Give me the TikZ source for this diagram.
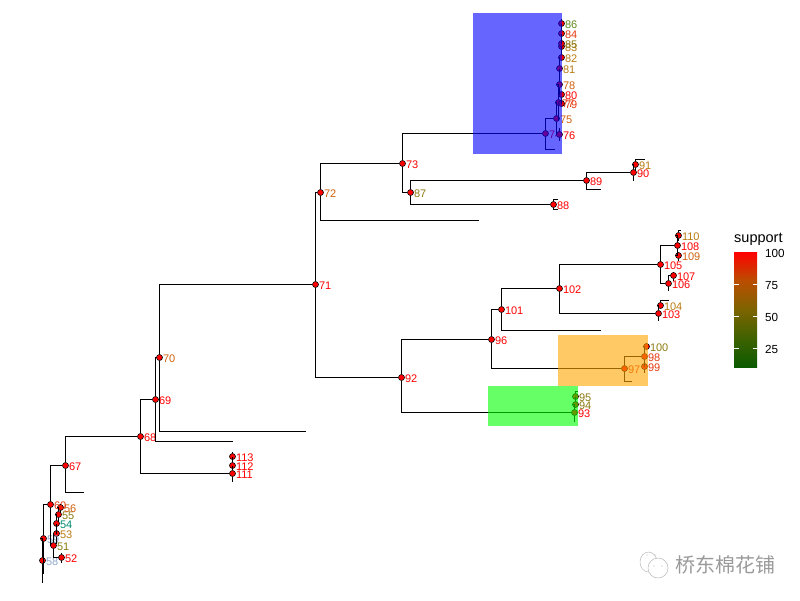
\documentclass[tikz,border=0pt]{standalone}
\usepackage{fontspec}
\setmainfont{Liberation Sans}
\newfontfamily\cjk{Noto Sans CJK SC}
\usepackage{xcolor}
\usepackage{tikz}
\definecolor{ca}{HTML}{FF0000}
\definecolor{cb}{HTML}{E63A10}
\definecolor{cc}{HTML}{D0600E}
\definecolor{cd}{HTML}{B87A10}
\definecolor{ce}{HTML}{8C7A10}
\definecolor{cf}{HTML}{5E8A20}
\definecolor{cg}{HTML}{008A70}
\definecolor{ch}{HTML}{8FA8CC}
\definecolor{leggreen}{HTML}{0A5A00}
\definecolor{legmida}{HTML}{3F6200}
\definecolor{legmidb}{HTML}{7C6400}
\definecolor{legmidc}{HTML}{BA4E00}
\definecolor{wmgray}{HTML}{9A9A9A}
\definecolor{cladeorange}{HTML}{FFA500}
\pgfdeclareverticalshading{supshade}{100bp}{color(0bp)=(leggreen); color(25bp)=(leggreen); color(37.5bp)=(legmida); color(50bp)=(legmidb); color(62.5bp)=(legmidc); color(75bp)=(red); color(100bp)=(red)}
\tikzset{
    dot/.style={circle, draw=black, fill=red, line width=0.6pt, minimum size=6pt, inner sep=0pt, label distance=-3pt},
    lab/.style={font=\fontsize{11}{12}\selectfont, inner sep=0pt, yshift=-1pt},
    edge/.style={draw=black, line width=1pt},
    hilite/.style={opacity=0.6},
    legtext/.style={font=\fontsize{11.7}{14}\selectfont, text=black, inner sep=0pt, anchor=west}
}
\begin{document}
\begin{tikzpicture}[x=1pt, y=-1pt]
    \useasboundingbox (0,0) rectangle (800,600);

    % Inner nodes of the tree
    \foreach \name/\px/\py/\col in {
        51/53.3/545/ce, 52/61.3/557/ca, 53/56.7/533/cd, 54/56.7/523/cg,
        55/58.7/514/ce, 56/60.7/507/cc, 58/42.3/560/ch, 59/43.3/538/ch,
        60/50.7/504/cb, 67/65/465/ca, 68/140.5/436.5/ca, 69/155.3/399/ca,
        70/159.3/357/cc, 71/315/284/ca, 72/320/192/cc, 73/402/163/ca,
        74/545.7/133.3/ca, 75/556.7/118.3/cc, 76/559.3/134/ca, 77/558.3/102/cb,
        78/559.3/84/cc, 79/561.3/103/cb, 80/561.3/94.3/ca, 81/559.3/68/cd,
        82/561/57.3/cd, 83/561/46/cd, 84/561/33.3/cb, 85/561/43.3/ce,
        86/561/23.3/cf, 87/410.5/192.5/ce, 88/553.5/204.5/ca, 89/586.7/180.5/ca,
        90/633.3/172/ca, 91/635.3/164.3/cd, 92/401/377/ca, 93/574.7/412.7/ca,
        94/575.3/404.3/ce, 95/575.3/396.7/ce, 96/491.7/339.3/ca, 97/624.3/368.3/cb,
        98/644.3/356/cb, 99/644.3/366/cb, 100/646.7/346.7/ce, 101/501.7/309.3/ca,
        102/559/288/ca, 103/658.3/313.3/ca, 104/660.7/305/cd, 105/660.7/264.3/ca,
        106/668.3/283.3/ca, 107/673.3/275.3/ca, 108/677.3/245.3/ca, 109/678.3/255.3/cc,
        110/678.7/235.3/cd, 111/232.5/473/ca, 112/232.5/465/ca, 113/232.5/456/ca}
    {
        \pgfmathsetmacro{\qx}{floor(\px)+0.5}
        \pgfmathsetmacro{\qy}{floor(\py)+0.5}
        \node[dot, label={[lab, text=\col]right:\name}] (n\name) at (\qx,\qy) {};
    }

    % Tips
    \foreach \name/\px/\py in {
        t58/42.3/582, t59/43.3/573, t67/83/492, t69/232/441, t70/305/431, t72/478/220,
        t52a/61.3/552, t52b/61.3/562, t53/56.7/543, t54/56.7/533, t55/58.7/521,
        t56a/60.7/503, t56b/60.7/511, t74/554/149.3, t76a/559.3/127, t76b/559.3/140,
        t77/558.3/120, t86/561/18, t88a/557/199, t88b/557/209, t89/600/189.5,
        t90/633.3/180, t91a/644/159.3, t91b/635.3/169, t93/574.7/421.7, t95/577.5/391,
        t97/631.7/381, t99/644.3/372, t100/646.7/343, t101/600/330.3, t103/658.3/320,
        t104/668.7/300.3, t106/668.3/290, t107a/673.3/271, t107b/673.3/280, t109/678.3/260,
        t110a/680.3/230.3, t110b/678.7/240, t111/232.5/481, t113/232.5/451}
    {
        \pgfmathsetmacro{\qx}{floor(\px)+0.5}
        \pgfmathsetmacro{\qy}{floor(\py)+0.5}
        \coordinate (\name) at (\qx,\qy);
    }

    % Branches
    \foreach \from/\to in {
        n58/t58, n58/n59, n59/t59, n59/n60, n60/n67, n60/n51, n51/n53, n51/n52,
        n52/t52a, n52/t52b, n53/n54, n53/t53, n54/n55, n54/t54, n55/n56, n55/t55,
        n56/t56a, n56/t56b, n67/n68, n67/t67, n68/n69, n68/n111, n69/n70, n69/t69,
        n70/n71, n70/t70, n71/n72, n71/n92, n72/n73, n72/t72, n73/n74, n73/n87,
        n74/n75, n74/t74, n75/n77, n75/n76, n76/t76a, n76/t76b, n77/n78, n77/t77,
        n78/n81, n78/n80, n80/n79, n81/n82, n82/n83, n83/n85, n83/n84, n84/n86,
        n86/t86, n87/n89, n87/n88, n88/t88a, n88/t88b, n89/n90, n89/t89, n90/n91,
        n90/t90, n91/t91a, n91/t91b, n92/n96, n92/n93, n93/n94, n93/t93, n94/n95,
        n95/t95, n96/n101, n96/n97, n97/n98, n97/t97, n98/n100, n98/n99, n99/t99,
        n100/t100, n101/n102, n101/t101, n102/n105, n102/n103, n103/n104, n103/t103,
        n104/t104, n105/n108, n105/n106, n106/n107, n106/t106, n107/t107a, n107/t107b,
        n108/n110, n108/n109, n109/t109, n110/t110a, n110/t110b, n111/n112, n111/t111,
        n112/n113, n113/t113}
    {
        \draw[edge] (\from) |- (\to);
    }

    % Highlighted clades
    \fill[blue, hilite] (473,13) rectangle (562,154);
    \fill[cladeorange, hilite] (558,335) rectangle (648,386);
    \fill[green, hilite] (488,386) rectangle (578,426);

    % Legend
    \node[legtext, font=\fontsize{14.5}{17}\selectfont] (legtitle) at (734,239) {support};
    \shade[shading=supshade] (734,252) rectangle (757,367);
    \foreach \py in {284.5,316.5,348.5} {
        \draw[white, line width=0.8pt] (734,\py) -- (738.5,\py);
        \draw[white, line width=0.8pt] (752.5,\py) -- (757,\py);
    }
    \node[legtext] (leg100) at (765,253) {100};
    \node[legtext] (leg75) at (765,285.5) {75};
    \node[legtext] (leg50) at (765,317.5) {50};
    \node[legtext] (leg25) at (765,349.5) {25};

    % Watermark
    \draw[wmgray!70, line width=0.5pt] (648.5,562) ellipse (8.5 and 10 );
    \fill[white] (658,568) ellipse (10 and 10);
    \draw[wmgray!70, line width=0.5pt] (658,568) ellipse (10 and 10);
    \foreach \px/\py in {647/555,655/555,654/566,662/566} {
        \fill[wmgray!70] (\px,\py) circle (0.7);
    }
    \node[font=\cjk\fontsize{20}{24}\selectfont, text=wmgray, inner sep=0pt, anchor=west] (wmtext) at (675,565) {桥东棉花铺};
\end{tikzpicture}
\end{document}
